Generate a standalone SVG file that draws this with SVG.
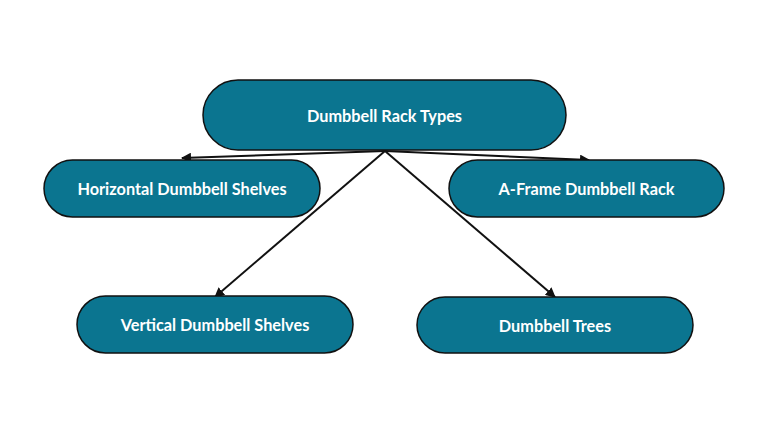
<svg xmlns="http://www.w3.org/2000/svg" width="768" height="432" viewBox="0 0 768 432">
<style>
.n{fill:#0b7590;stroke:#111;stroke-width:1.5}
.t{fill:#fff;font-family:Lato,"Liberation Sans",sans-serif;font-weight:bold;font-size:16.3px;text-anchor:middle;dominant-baseline:central}
.c{stroke:#111;stroke-width:2;fill:none;marker-end:url(#a)}
</style>
<defs><marker id="a" viewBox="0 0 10 10" refX="9" refY="5" markerWidth="5" markerHeight="5" orient="auto"><path d="M0,0L10,5L0,10z" fill="#111"/></marker></defs>
<rect width="768" height="432" fill="#fff"/>
<g id="connectors">
<path class="c" d="M385,151L182,158"/>
<path class="c" d="M385,151L589,160"/>
<path class="c" d="M385,151L215,297"/>
<path class="c" d="M385,151L555,297"/>
</g>
<g id="root"><rect class="n" x="203" y="80" width="363" height="70" rx="35"/><text class="t" x="384.5" y="115">Dumbbell Rack Types</text></g>
<g id="horizontal"><rect class="n" x="44" y="160" width="276" height="57" rx="28.5"/><text class="t" x="182" y="188.5">Horizontal Dumbbell Shelves</text></g>
<g id="aframe"><rect class="n" x="449" y="160" width="275" height="57" rx="28.5"/><text class="t" x="586.5" y="188.5">A-Frame Dumbbell Rack</text></g>
<g id="vertical"><rect class="n" x="77" y="296" width="276" height="57" rx="28.5"/><text class="t" x="215" y="324.5">Vertical Dumbbell Shelves</text></g>
<g id="trees"><rect class="n" x="417" y="297" width="276" height="56" rx="28"/><text class="t" x="555" y="325">Dumbbell Trees</text></g>
</svg>
